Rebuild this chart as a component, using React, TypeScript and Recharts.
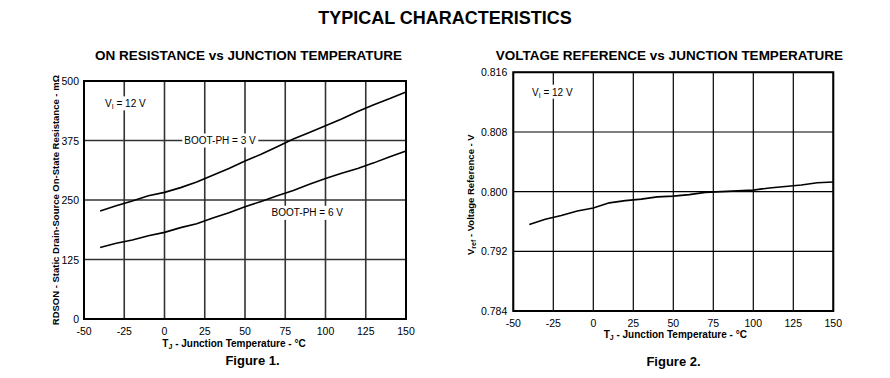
import { LineChart, Line, XAxis, YAxis, CartesianGrid, ReferenceArea, ReferenceDot } from 'recharts'

const FONT = '"Liberation Sans", Arial, Helvetica, sans-serif'

// junction temperature samples (°C)
const temps = [-40, -30, -20, -10, 0, 10, 20, 30, 40, 50, 60, 70, 80, 90, 100, 110, 120, 130, 140, 150]
// RDSON (mΩ), BOOT-PH = 3 V
const rdsonBoot3 = [227, 238, 248, 259, 266, 276, 288, 302, 316, 332, 346, 362, 378, 392, 406, 420, 436, 450, 463, 477]
// RDSON (mΩ), BOOT-PH = 6 V
const rdsonBoot6 = [150, 159, 166, 175, 182, 192, 200, 212, 223, 236, 247, 259, 270, 283, 295, 306, 316, 328, 341, 353]
// Vref (V)
const vref = [0.7956, 0.7963, 0.7968, 0.7974, 0.7978, 0.7985, 0.7988, 0.799, 0.7993, 0.7994, 0.7996, 0.7999, 0.8, 0.8001, 0.8002, 0.8005, 0.8007, 0.8009, 0.8012, 0.8013]

const xTicks = [-50, -25, 0, 25, 50, 75, 100, 125, 150]
const rdsonTicks = [0, 125, 250, 375, 500]
const vrefTicks = [0.784, 0.792, 0.8, 0.808, 0.816]

const rdsonData = temps.map((t, i) => ({ t, boot3: rdsonBoot3[i], boot6: rdsonBoot6[i] }))
const vrefData = temps.map((t, i) => ({ t, vref: vref[i] }))

// tick renderers (text only, no tick marks)
const xTick = (p: any) => (
  <text x={p.x} y={p.y + 6} textAnchor="middle" dominantBaseline="hanging" fontFamily={FONT} fontSize={10.5} fill="#000">
    {p.payload.value === 0 ? '0' : String(p.payload.value)}
  </text>
)
const yTick = (digits: number, dx: number) => (p: any) => (
  <text x={p.x - dx} y={p.y} textAnchor="end" dominantBaseline="central" fontFamily={FONT} fontSize={10.5} fill="#000">
    {digits ? Number(p.payload.value).toFixed(digits) : String(p.payload.value)}
  </text>
)

function noteShape(main: string, sub: string, tail: string, w: number) {
  return (p: any) => {
    const { cx, cy } = p
    return (
      <g>
        <rect x={cx - 2} y={cy - 7} width={w} height={14} fill="#fff" />
        {sub ? (
          <text x={cx} y={cy} dominantBaseline="central" fontFamily={FONT} fontSize={10} fill="#000">
            <tspan>{main}</tspan>
            <tspan fontSize={7} dy={3}>{sub}</tspan>
            <tspan dy={-3}>{tail}</tspan>
          </text>
        ) : (
          <text x={cx} y={cy} dominantBaseline="central" fontFamily={FONT} fontSize={10} fill="#000">{main}</text>
        )}
      </g>
    )
  }
}

function xTitle(dx: number, dy: number) {
  return ({ viewBox }: any) => (
    <text
      x={viewBox.x + viewBox.width / 2 + dx}
      y={viewBox.y + dy}
      textAnchor="middle"
      dominantBaseline="central"
      fontFamily={FONT}
      fontSize={10}
      fontWeight="bold"
      fill="#000"
    >
      <tspan>T</tspan>
      <tspan fontSize={7} dy={3}>J</tspan>
      <tspan dy={-3}> - Junction Temperature - °C</tspan>
    </text>
  )
}

function yTitle(x: number, dy: number, main: string, sub: string, tail: string) {
  return ({ viewBox }: any) => {
    const cx = viewBox.x + x
    const cy = viewBox.y + viewBox.height / 2 + dy
    const common = {
      x: cx, y: cy, transform: `rotate(-90 ${cx} ${cy})`, textAnchor: 'middle' as const,
      dominantBaseline: 'central' as const, fontFamily: FONT, fontSize: 9.5, fontWeight: 'bold', fill: '#000',
    }
    return sub ? (
      <text {...common}>
        <tspan>{main}</tspan>
        <tspan fontSize={7} dy={3}>{sub}</tspan>
        <tspan dy={-3}>{tail}</tspan>
      </text>
    ) : (
      <text {...common}>{main}</text>
    )
  }
}

const heading = (text: string, left: number, top: number, size: number, width = 445) => (
  <div
    style={{
      position: 'absolute', left, top, width, textAlign: 'center', fontFamily: FONT,
      fontWeight: 'bold', fontSize: size, lineHeight: 1, color: '#000', whiteSpace: 'nowrap',
    }}
  >
    {text}
  </div>
)

export default function App() {
  return (
    <div style={{ position: 'absolute', left: 0, top: 0, width: 890, height: 378, background: '#fff', overflow: 'hidden' }}>
      {heading('TYPICAL CHARACTERISTICS', 0, 9, 18, 890)}
      {heading('ON RESISTANCE vs JUNCTION TEMPERATURE', 26, 49, 13.5)}
      {heading('VOLTAGE REFERENCE vs JUNCTION TEMPERATURE', 447, 49, 13.5)}
      {heading('Figure 1.', 30, 354, 13)}
      {heading('Figure 2.', 451, 355, 13)}

      <div style={{ position: 'absolute', left: 0, top: 0 }}>
        <LineChart width={445} height={378} data={rdsonData} margin={{ top: 81, right: 39, bottom: 29, left: 0 }}>
          <CartesianGrid stroke="#333" strokeWidth={1.6} />
          <XAxis
            dataKey="t" type="number" domain={[-50, 150]} ticks={xTicks} height={30}
            axisLine={false} tickLine={false} tickSize={0} tick={xTick} interval={0}
            label={{ content: xTitle(-11, 24) }}
          />
          <YAxis
            type="number" domain={[0, 500]} ticks={rdsonTicks} width={84}
            axisLine={false} tickLine={false} tickSize={0} tick={yTick(0, 3)} interval={0}
            label={{ content: yTitle(55, 0, 'RDSON - Static Drain-Source On-State Resistance - mΩ', '', '') }}
          />
          <ReferenceDot x={-36.9} y={453} r={0} ifOverflow="visible" shape={noteShape('V', 'I', ' = 12 V', 52)} />
          <ReferenceDot x={12.3} y={375} r={0} ifOverflow="visible" shape={noteShape('BOOT-PH = 3 V', '', '', 76)} />
          <ReferenceDot x={66.5} y={223} r={0} ifOverflow="visible" shape={noteShape('BOOT-PH = 6 V', '', '', 76)} />
          <Line dataKey="boot3" type="linear" stroke="#000" strokeWidth={1.6} dot={false} isAnimationActive={false} />
          <Line dataKey="boot6" type="linear" stroke="#000" strokeWidth={1.6} dot={false} isAnimationActive={false} />
          <ReferenceArea x1={-50} x2={150} y1={0} y2={500} fill="none" stroke="#000" strokeWidth={2} ifOverflow="visible" />
        </LineChart>
      </div>

      <div style={{ position: 'absolute', left: 445, top: 0 }}>
        <LineChart width={445} height={378} data={vrefData} margin={{ top: 72.3, right: 56.7, bottom: 37, left: 0 }}>
          <CartesianGrid stroke="#000" strokeWidth={1.2} />
          <XAxis
            dataKey="t" type="number" domain={[-50, 150]} ticks={xTicks} height={30}
            axisLine={false} tickLine={false} tickSize={0} tick={xTick} interval={0}
            label={{ content: xTitle(2, 23) }}
          />
          <YAxis
            type="number" domain={[0.784, 0.816]} ticks={vrefTicks} width={68.3}
            axisLine={false} tickLine={false} tickSize={0} tick={yTick(3, 4)} interval={0}
            label={{ content: yTitle(25, 3, 'V', 'ref', ' - Voltage Reference - V') }}
          />
          <ReferenceDot x={-38.3} y={0.8134} r={0} ifOverflow="visible" shape={noteShape('V', 'I', ' = 12 V', 52)} />
          <Line dataKey="vref" type="linear" stroke="#000" strokeWidth={1.6} dot={false} isAnimationActive={false} />
          <ReferenceArea x1={-50} x2={150} y1={0.784} y2={0.816} fill="none" stroke="#000" strokeWidth={2} ifOverflow="visible" />
        </LineChart>
      </div>
    </div>
  )
}
